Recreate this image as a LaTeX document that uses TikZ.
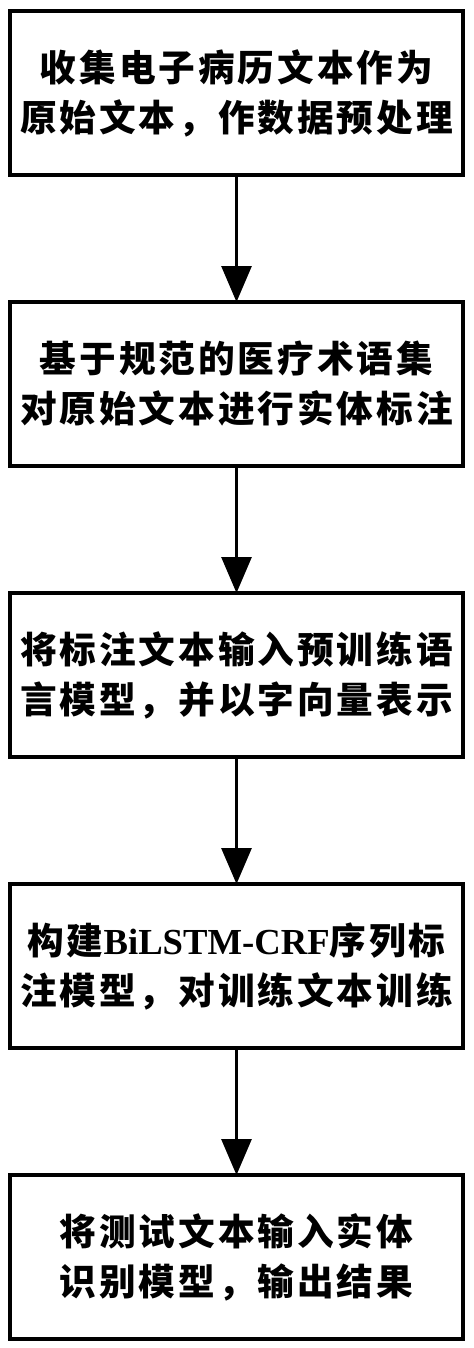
\documentclass[tikz,border=0pt]{standalone}
\usepackage{fontspec}
\usepackage{tikz}
\usetikzlibrary{arrows.meta, positioning}
\newfontfamily\cjk[LetterSpace=8]{Noto Sans CJK SC}
\newfontfamily\latinb{Liberation Serif}

\begin{document}
\begin{tikzpicture}[
    node distance=95.25pt,
    stepbox/.style={draw, line width=2.4pt, minimum width=339.75pt, minimum height=123pt,
        inner sep=0pt, outer sep=0pt, align=center,
        font=\cjk\bfseries\fontsize{27.5}{37.5}\selectfont},
    arr/.style={line width=2.2pt, -{Triangle[width=22.5pt, length=27pt]}}
]
    \useasboundingbox (0,0) rectangle (355.5pt,-1011pt);

    % 五个步骤
    \node[stepbox] (collect) at (177.375pt,-69.75pt) {收集电子病历文本作为\\原始文本，作数据预处理};
    \node[stepbox, below=of collect] (label) {基于规范的医疗术语集\\对原始文本进行实体标注};
    \node[stepbox, below=of label] (embed) {将标注文本输入预训练语\\言模型，并以字向量表示};
    \node[stepbox, below=of embed] (train) {构建{\latinb\bfseries BiLSTM-CRF}序列标\\注模型，对训练文本训练};
    \node[stepbox, below=of train] (test) {将测试文本输入实体\\识别模型，输出结果};

    % 箭头
    \draw[arr] (collect) -- (label);
    \draw[arr] (label) -- (embed);
    \draw[arr] (embed) -- (train);
    \draw[arr] (train) -- (test);
\end{tikzpicture}
\end{document}
